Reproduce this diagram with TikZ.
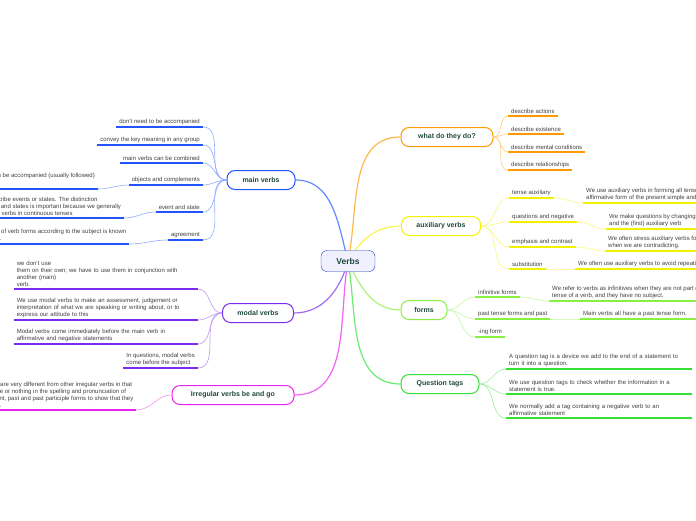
\documentclass[tikz,border=0pt]{standalone}
\usepackage{fontspec}
\setmainfont{Liberation Sans}
\usetikzlibrary{backgrounds}
\definecolor{orC}{HTML}{FF9A00}
\definecolor{yeC}{HTML}{F2F200}
\definecolor{fgC}{HTML}{88F040}
\definecolor{qtC}{HTML}{33E033}
\definecolor{mvC}{HTML}{2255FF}
\definecolor{moC}{HTML}{7A2CF0}
\definecolor{irC}{HTML}{EE22EE}
\definecolor{txC}{HTML}{1E4A3C}
\begin{document}
\begin{tikzpicture}[x=1pt,y=-1pt,
    branch/.style={draw=#1, line width=1pt, rounded corners=8pt, fill=white,
        minimum height=19pt, font=\fontsize{7}{8}\selectfont\bfseries, text=txC},
    leaf/.style={font=\fontsize{6}{7}\selectfont, text=black!75, inner xsep=3pt, inner ysep=2.5pt,
        align=left, append after command={(\tikzlastnode.south west) edge[draw=#1, line width=1.2pt] (\tikzlastnode.south east)}},
    trunk/.style={draw=#1!70, line width=1.2pt},
    twig/.style={draw=#1!50, line width=0.6pt}]
  \useasboundingbox (0,0) rectangle (696,520);
  \clip (0,0) rectangle (696,520);

  % centre and branches
  \node[draw=mvC!70!black, fill=blue!6, rounded corners=6pt, minimum width=54pt, minimum height=21pt,
        font=\fontsize{8.5}{9}\selectfont\bfseries, text=txC] (verbs) at (348,261) {Verbs};
  \node[branch=orC, minimum width=92pt] (what) at (447,137) {what do they do?};
  \node[branch=yeC, minimum width=79pt] (aux) at (441,226) {auxiliary verbs};
  \node[branch=fgC, minimum width=46pt] (forms) at (424,310) {forms};
  \node[branch=qtC, minimum width=78pt] (qtag) at (440,384) {Question tags};
  \node[branch=mvC, minimum width=68pt] (main) at (261,180) {main verbs};
  \node[branch=moC, minimum width=71pt] (modal) at (258,313) {modal verbs};
  \node[branch=irC, minimum width=122pt] (irreg) at (233,395) {Irregular verbs be and go};

  \begin{pgfonlayer}{background}
    \draw[trunk=orC] (verbs.center) to[out=78, in=180] (what.west);
    \draw[trunk=yeC] (verbs.center) to[out=60, in=180] (aux.west);
    \draw[trunk=fgC] (verbs.center) to[out=-65, in=180] (forms.west);
    \draw[trunk=qtC] (verbs.center) to[out=-80, in=180] (qtag.west);
    \draw[trunk=mvC] (verbs.center) to[out=105, in=0] (main.east);
    \draw[trunk=moC] (verbs.center) to[out=-105, in=0] (modal.east);
    \draw[trunk=irC] (verbs.center) to[out=-100, in=0] (irreg.east);
  \end{pgfonlayer}

  % what do they do?
  \node[leaf=orC, anchor=south west] (w1) at (508,116) {describe actions};
  \node[leaf=orC, anchor=south west] (w2) at (508,134) {describe existence};
  \node[leaf=orC, anchor=south west] (w3) at (508,152) {describe mental conditions};
  \node[leaf=orC, anchor=south west] (w4) at (508,170) {describe relationships};
  \foreach \n in {w1,w2,w3,w4}
    \draw[twig=orC] (what.east) to[out=0, in=180] (\n.south west);

  % auxiliary verbs
  \node[leaf=yeC, anchor=south west] (a1) at (509,198) {tense auxiliary};
  \node[leaf=yeC, anchor=south west] (a2) at (509,222) {questions and negative};
  \node[leaf=yeC, anchor=south west] (a3) at (509,247) {emphasis and contrast};
  \node[leaf=yeC, anchor=south west] (a4) at (509,269) {substitution};
  \node[leaf=yeC, anchor=south west] (a1x) at (583,203) {We use auxiliary verbs in forming all tenses, except the\\affirmative form of the present simple and past simple.};
  \node[leaf=yeC, anchor=south west] (a2x) at (606,229) {We make questions by changing the order of the subject\\and the (first) auxiliary verb};
  \node[leaf=yeC, anchor=south west] (a3x) at (605,251) {We often stress auxiliary verbs for emphasis, especially\\when we are contradicting.};
  \node[leaf=yeC, anchor=south west] (a4x) at (575,269) {We often use auxiliary verbs to avoid repeating a whole verb phrase.};
  \foreach \n in {a1,a2,a3,a4}
  {
    \draw[twig=yeC] (aux.east) to[out=0, in=180] (\n.south west);
    \draw[twig=yeC] (\n.south east) to[out=0, in=180] (\n x.south west);
  }

  % forms
  \node[leaf=fgC, anchor=south west] (f1) at (475,297) {infinitive forms};
  \node[leaf=fgC, anchor=south west] (f2) at (475,319) {past tense forms and past};
  \node[leaf=fgC, anchor=south west] (f3) at (475,337) {-ing form};
  \node[leaf=fgC, anchor=south west] (f1x) at (549,301) {We refer to verbs as infinitives when they are not part of a\\tense of a verb, and they have no subject.};
  \node[leaf=fgC, anchor=south west, text width=113pt] (f2x) at (580,319) {Main verbs all have a past tense form.};
  \foreach \n in {f1,f2,f3}
    \draw[twig=fgC] (forms.east) to[out=0, in=180] (\n.south west);
  \draw[twig=fgC] (f1.south east) to[out=0, in=180] (f1x.south west);
  \draw[twig=fgC] (f2.south east) to[out=0, in=180] (f2x.south west);

  % question tags
  \node[leaf=qtC, anchor=south west, text width=180pt] (q1) at (506,369) {A question tag is a device we add to the end of a statement to\\turn it into a question.};
  \node[leaf=qtC, anchor=south west, text width=180pt] (q2) at (506,394) {We use question tags to check whether the information in a\\statement is true.};
  \node[leaf=qtC, anchor=south west, text width=180pt] (q3) at (506,418) {We normally add a tag containing a negative verb to an\\affirmative statement};
  \foreach \n in {q1,q2,q3}
    \draw[twig=qtC] (qtag.east) to[out=0, in=180] (\n.south west);

  % main verbs
  \node[leaf=mvC, anchor=south east] (m1) at (203,127) {don't need to be accompanied};
  \node[leaf=mvC, anchor=south east] (m2) at (203,145) {convey the key meaning in any group};
  \node[leaf=mvC, anchor=south east] (m3) at (203,163) {main verbs can be combined};
  \node[leaf=mvC, anchor=south east] (m4) at (203,185) {objects and complements};
  \node[leaf=mvC, anchor=south east] (m5) at (203,212) {event and state};
  \node[leaf=mvC, anchor=south east] (m6) at (203,240) {agreement};
  \node[leaf=mvC, anchor=south east, text depth=9pt] (m4x) at (98,189) {Main verbs can be accompanied (usually followed)};
  \node[leaf=mvC, anchor=south west] (m5x) at (-46,218) {Main verbs describe events or states. The distinction\\between events and states is important because we generally\\do not use state verbs in continuous tenses};
  \node[leaf=mvC, anchor=south west] (m6x) at (-40,244) {The changing of verb forms according to the subject is known\\as agreement.};
  \foreach \n in {m1,m2,m3,m4,m5,m6}
    \draw[twig=mvC] (main.west) to[out=180, in=0] (\n.south east);
  \foreach \n in {m4,m5,m6}
    \draw[twig=mvC] (\n.south west) to[out=180, in=0] (\n x.south east);

  % modal verbs
  \node[leaf=moC, anchor=south east, text width=178pt] (d1) at (198,289) {we don't use\\them on their own; we have to use them in conjunction with\\another (main)\\verb.};
  \node[leaf=moC, anchor=south east, text width=178pt] (d2) at (198,320) {We use modal verbs to make an assessment, judgement or\\interpretation of what we are speaking or writing about, or to\\express our attitude to this};
  \node[leaf=moC, anchor=south east, text width=178pt] (d3) at (198,344) {Modal verbs come immediately before the main verb in\\affirmative and negative statements};
  \node[leaf=moC, anchor=south east] (d4) at (198,368) {In questions, modal verbs\\come before the subject};
  \foreach \n in {d1,d2,d3,d4}
    \draw[twig=moC] (modal.west) to[out=180, in=0] (\n.south east);

  % irregular verbs be and go
  \node[leaf=irC, anchor=south west] (i1) at (-32,410) {Be and go are very different from other irregular verbs in that\\there is little or nothing in the spelling and pronunciation of\\their present, past and past participle forms to show that they\\are related.};
  \draw[twig=irC] (irreg.west) to[out=180, in=0] (i1.south east);
\end{tikzpicture}
\end{document}
